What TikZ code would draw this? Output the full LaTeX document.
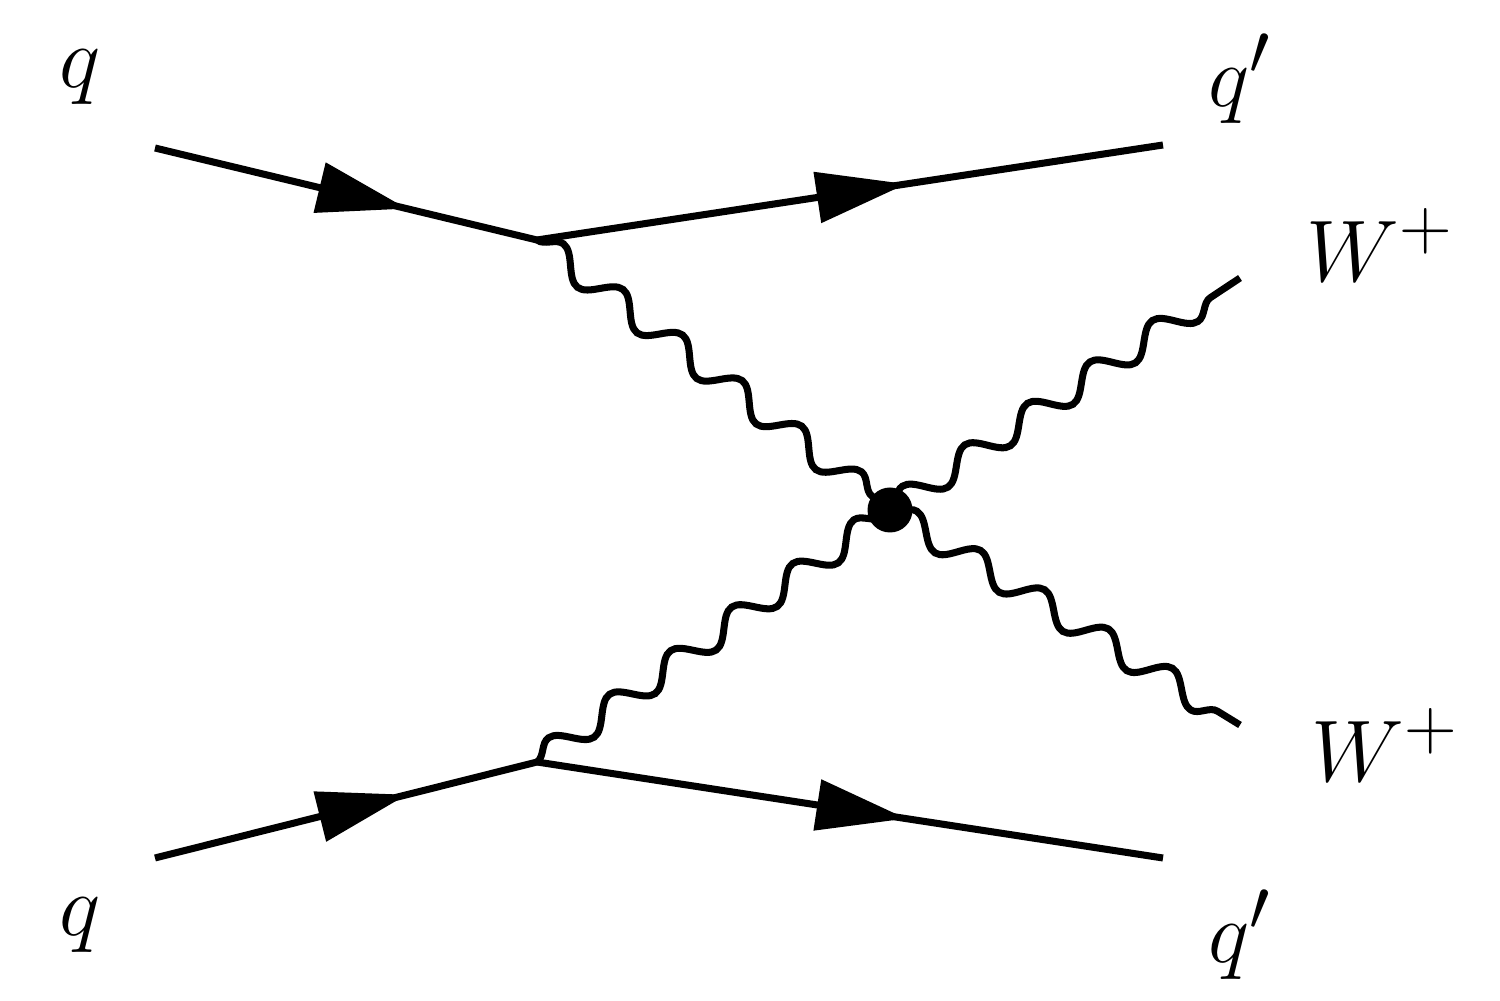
\documentclass[tikz,border=0pt]{standalone}
\usetikzlibrary{arrows.meta, decorations.pathmorphing, decorations.markings}

\begin{document}
\begin{tikzpicture}[line width=2pt]

	% Define styles for lines
	\tikzset{fermion/.style = {postaction={decorate}, decoration={markings,
			mark=at position #1 with {\arrow{Triangle[length=9mm, width=5mm]}}}},
		fermion/.default = 0.66,
		boson/.style = {decorate, decoration={snake, amplitude=1.3mm,
			segment length=7.5mm}},
		lbl/.style = {font=\fontsize{32}{38}\selectfont}}

	\useasboundingbox (0,0) rectangle (15,10.01);

	% Place vertices
	\coordinate (qa) at (1.55,8.53);
	\coordinate (qb) at (1.55,1.43);
	\coordinate (va) at (5.37,7.61);
	\coordinate (vb) at (5.37,2.39);
	\coordinate (qpa) at (11.63,8.56);
	\coordinate (qpb) at (11.63,1.43);
	\coordinate (wa) at (12.40,7.23);
	\coordinate (wb) at (12.40,2.76);
	\node [circle, fill, inner sep=0pt, minimum size=4.5mm] (c) at (8.90,4.91) {};

	% Place labels
	\node [lbl] (lqa) at (0.8,9.24) {$q$};
	\node [lbl] (lqb) at (0.8,0.76) {$q$};
	\node [lbl] (lqpa) at (12.4,9.22) {$q'$};
	\node [lbl] (lqpb) at (12.4,0.66) {$q'$};
	\node [lbl] (lwa) at (13.8,7.56) {$W^+$};
	\node [lbl] (lwb) at (13.85,2.56) {$W^+$};

	% Draw edges
	\draw [fermion] (qa) -- (va);
	\draw [fermion=0.59] (va) -- (qpa);
	\draw [fermion] (qb) -- (vb);
	\draw [fermion=0.59] (vb) -- (qpb);
	\draw [boson] (va) -- (c.center);
	\draw [boson] (vb) -- (c.center);
	\draw [boson] (c.center) -- (wa);
	\draw [boson] (c.center) -- (wb);
\end{tikzpicture}
\end{document}
